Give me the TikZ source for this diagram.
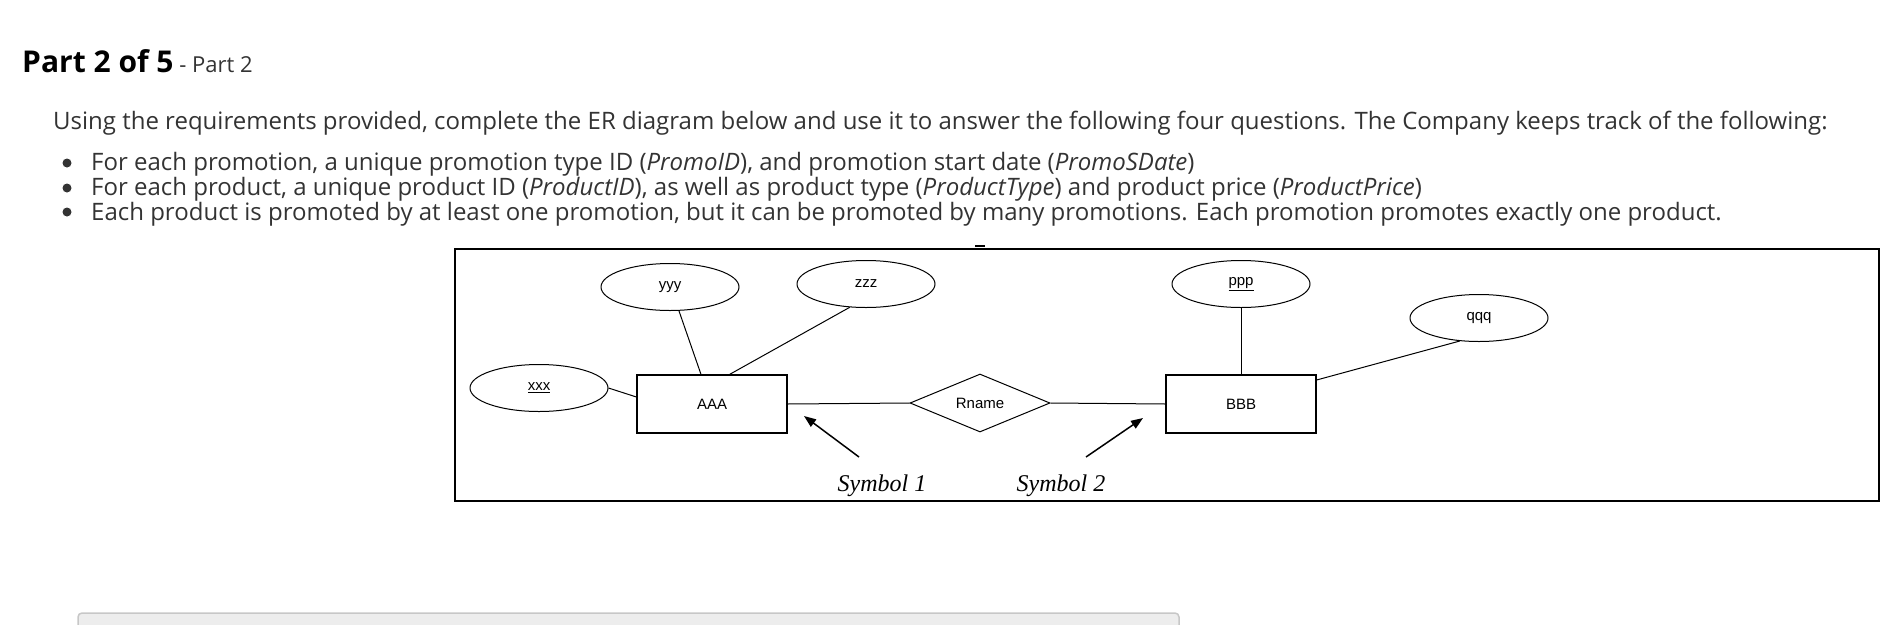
\documentclass[tikz,border=0pt]{standalone}
\usepackage{fontspec}
\setmainfont{Open Sans}
\newfontfamily\diag{Liberation Sans}
\newfontfamily\sym{Liberation Serif}
\usetikzlibrary{shapes.geometric,arrows.meta}
\definecolor{txt}{HTML}{333333}
\tikzset{
  attr/.style={draw,ellipse,line width=1pt,minimum width=138pt,minimum height=47pt,inner sep=0pt,font=\diag\fontsize{15}{17}\selectfont},
  ent/.style={draw,rectangle,line width=1.2pt,minimum width=150pt,minimum height=58pt,inner sep=0pt,font=\diag\fontsize{15}{17}\selectfont},
  rel/.style={draw,diamond,aspect=2.4,line width=1pt,minimum width=140pt,minimum height=58pt,inner sep=0pt,font=\diag\fontsize{15}{17}\selectfont},
  conn/.style={line width=1pt},
  pointer/.style={line width=1.5pt,-{Triangle[length=12pt,width=9pt]}},
  para/.style={anchor=base west,inner sep=0pt,text=txt,font=\fontsize{24}{26}\selectfont},
  symlab/.style={anchor=base,inner sep=0pt,font=\sym\itshape\fontsize{24}{26}\selectfont}
}
\begin{document}
\begin{tikzpicture}[x=1pt,y=-1pt]
\useasboundingbox (0,0) rectangle (1902,624);
\node[anchor=base west,inner sep=0pt] (title) at (22,72) {\fontsize{30}{32}\selectfont\bfseries Part 2 of 5\fontsize{22}{24}\mdseries\color{txt}\ - Part 2};
\node[para] (p0) at (53,129) {Using the requirements provided, complete the ER diagram below and use it to answer the following four questions. The Company keeps track of the following:};
\node[para] (b1) at (91,170) {For each promotion, a unique promotion type ID (\textit{PromoID}), and promotion start date (\textit{PromoSDate})};
\node[para] (b2) at (91,195) {For each product, a unique product ID (\textit{ProductID}), as well as product type (\textit{ProductType}) and product price (\textit{ProductPrice})};
\node[para] (b3) at (91,220) {Each product is promoted by at least one promotion, but it can be promoted by many promotions. Each promotion promotes exactly one product.};
\foreach \y in {163,188,212} \fill[txt] (67,\y) circle (4.5pt);
% frame
\draw[line width=1.5pt] (455,249) rectangle (1879,501);
\draw[line width=1.5pt] (975,246) -- (985,246);
% nodes
\node[ent] (aaa) at (712,404) {AAA};
\node[ent] (bbb) at (1241,404) {BBB};
\node[rel] (rn) at (980,403) {Rname};
\node[attr] (yyy) at (670,287) {yyy};
\node[attr] (zzz) at (866,284) {zzz};
\node[attr] (xxx) at (539,388) {\underline{xxx}};
\node[attr] (ppp) at (1241,284) {\underline{ppp}};
\node[attr] (qqq) at (1479,318) {qqq};
% connectors
\draw[conn] ([xshift=9pt]yyy.south) -- ([xshift=-11pt]aaa.north);
\draw[conn] (zzz.-125) -- ([xshift=-58pt]aaa.north east);
\draw[conn] (xxx.east) -- ([yshift=7pt]aaa.west);
\draw[conn] (ppp.south) -- (bbb.north);
\draw[conn] (qqq.-130) -- ([yshift=24pt]bbb.east);
\draw[conn] (aaa.east) -- (rn.west);
\draw[conn] (rn.east) -- (bbb.west);
% symbols
\node[symlab] (s1) at (882,491) {Symbol 1};
\node[symlab] (s2) at (1061,491) {Symbol 2};
\coordinate (t1) at (804,416);
\coordinate (t2) at (1143,418);
\draw[pointer] (859,457) -- (t1);
\draw[pointer] (1086,457) -- (t2);
% bottom box
\draw[draw=black!22,fill=black!7,line width=1.5pt,rounded corners=4pt] (78,640) -- (78,613) -- (1179,613) -- (1179,640);
\end{tikzpicture}
\end{document}
